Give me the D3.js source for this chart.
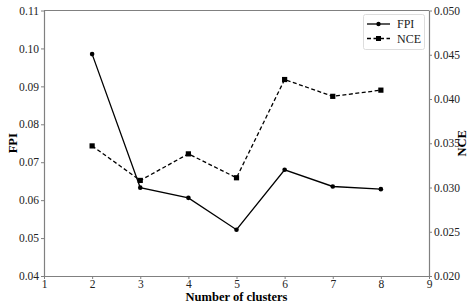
<!DOCTYPE html>
<html><head><meta charset="utf-8">
<script src="https://cdn.jsdelivr.net/npm/d3@7"></script>
<style>body{margin:0;background:#fff}svg{display:block}text{font-family:"Liberation Serif","DejaVu Serif",serif}</style>
</head><body><svg id="c" width="474" height="307"></svg>
<script>
const clusters = [2,3,4,5,6,7,8];
const fpi = [0.0985,0.0633,0.0606,0.0522,0.0680,0.0636,0.0629];
const nce = [0.0347,0.0308,0.0338,0.0311,0.0422,0.0403,0.0410];
const xTicks = [1,2,3,4,5,6,7,8,9];
const yLeftTicks = [0.04,0.05,0.06,0.07,0.08,0.09,0.10,0.11];
const yRightTicks = [0.020,0.025,0.030,0.035,0.040,0.045,0.050];

const svg = d3.select("#c");
const L=44, R=429, T=10.5, B=276;
const x = d3.scaleLinear().domain([1,9]).range([L,R]);
const yL = d3.scaleLinear().domain([0.04,0.11]).range([B,T]);
const yR = d3.scaleLinear().domain([0.02,0.05]).range([B,T]);
const axisColor="#808080";

function style(g){
  g.select(".domain").attr("stroke",axisColor).attr("stroke-width",1.2);
  g.selectAll(".tick line").attr("stroke",axisColor);
  g.selectAll(".tick text").attr("fill","#222").attr("font-size",11.5).attr("font-family","Liberation Serif, serif");
}
svg.append("g").attr("transform",`translate(0,${B})`)
  .call(d3.axisBottom(x).tickValues(xTicks).tickFormat(d3.format("d")).tickSize(3).tickSizeOuter(0).tickPadding(1)).call(style);
svg.append("g").attr("transform",`translate(${L},0)`)
  .call(d3.axisLeft(yL).tickValues(yLeftTicks).tickFormat(d3.format(".2f")).tickSize(3).tickSizeOuter(0).tickPadding(2)).call(style);
svg.append("g").attr("transform",`translate(${R},0)`)
  .call(d3.axisRight(yR).tickValues(yRightTicks).tickFormat(d3.format(".3f")).tickSize(3).tickSizeOuter(0).tickPadding(2)).call(style);
svg.append("line").attr("x1",L).attr("x2",R).attr("y1",T).attr("y2",T).attr("stroke",axisColor).attr("stroke-width",1.2);

const lineF = d3.line().x((d,i)=>x(clusters[i])).y(d=>yL(d));
const lineN = d3.line().x((d,i)=>x(clusters[i])).y(d=>yR(d));
svg.append("path").datum(fpi).attr("d",lineF).attr("fill","none").attr("stroke","#000").attr("stroke-width",1.3);
svg.append("path").datum(nce).attr("d",lineN).attr("fill","none").attr("stroke","#000").attr("stroke-width",1.3).attr("stroke-dasharray","4,2.5");
svg.selectAll(".pf").data(fpi).join("circle").attr("cx",(d,i)=>x(clusters[i])).attr("cy",d=>yL(d)).attr("r",2.3).attr("fill","#000");
svg.selectAll(".pn").data(nce).join("rect").attr("x",(d,i)=>x(clusters[i])-2.6).attr("y",d=>yR(d)-2.6).attr("width",5.2).attr("height",5.2).attr("fill","#000");

// legend
const lg = svg.append("g");
lg.append("rect").attr("x",363.5).attr("y",14.5).attr("width",61).attr("height",35).attr("rx",2).attr("fill","#fff").attr("stroke","#ddd");
[["FPI",""],["NCE","4,2.5"]].forEach((s,i)=>{
  const yy = 24 + i*14.5;
  lg.append("line").attr("x1",367).attr("x2",390).attr("y1",yy).attr("y2",yy).attr("stroke","#000").attr("stroke-width",1.3).attr("stroke-dasharray",s[1]||null);
  if(i===0) lg.append("circle").attr("cx",378.5).attr("cy",yy).attr("r",2.2).attr("fill","#000");
  else lg.append("rect").attr("x",376).attr("y",yy-2.5).attr("width",5).attr("height",5).attr("fill","#000");
  lg.append("text").attr("x",397).attr("y",yy+4).attr("font-size",12).attr("fill","#222").text(s[0]);
});

svg.append("text").attr("transform",`translate(17,${(T+B)/2}) rotate(-90)`).attr("text-anchor","middle").attr("font-weight","bold").attr("font-size",12.5).text("FPI");
svg.append("text").attr("transform",`translate(466,${(T+B)/2}) rotate(-90)`).attr("text-anchor","middle").attr("font-weight","bold").attr("font-size",12.5).text("NCE");
svg.append("text").attr("x",(L+R)/2).attr("y",301).attr("text-anchor","middle").attr("font-weight","bold").attr("font-size",12.5).text("Number of clusters");
</script></body></html>
